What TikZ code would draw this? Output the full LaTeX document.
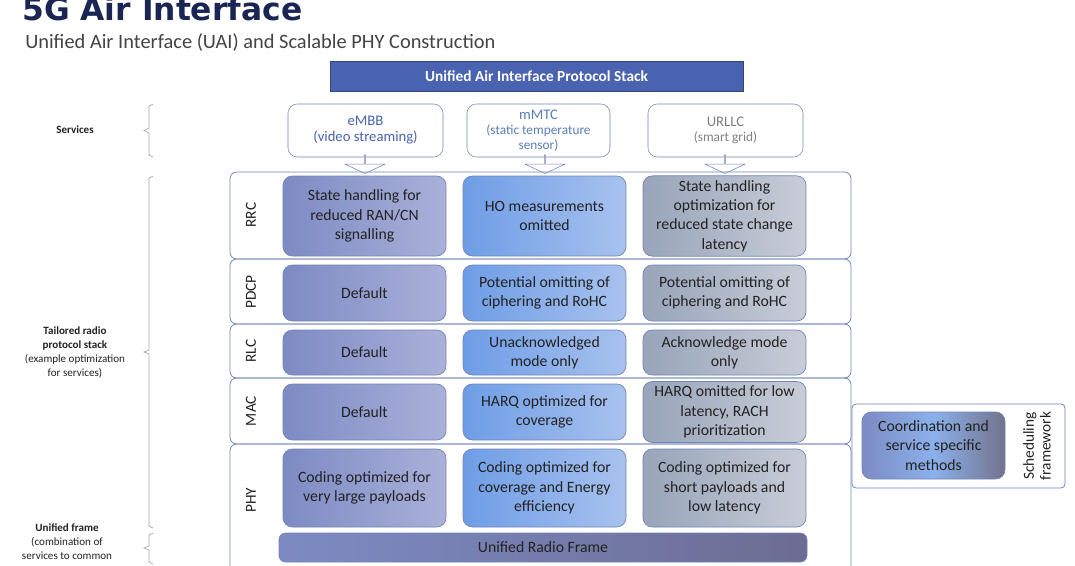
\documentclass[tikz,border=0pt]{standalone}
\usepackage{fontspec}
\setmainfont{Carlito}
\newfontfamily\titlefont{DejaVu Sans}
\usetikzlibrary{shapes.arrows}
\definecolor{navy}{HTML}{1B2553}
\definecolor{hdr}{HTML}{4A63B0}
\definecolor{bord}{HTML}{7283B8}
\definecolor{aA}{HTML}{7D8BC4}\definecolor{aB}{HTML}{AAB1D9}
\definecolor{bA}{HTML}{6E9DE6}\definecolor{bB}{HTML}{A8C2EE}
\definecolor{cA}{HTML}{98A4BA}\definecolor{cB}{HTML}{C8CDD7}
\definecolor{txt}{HTML}{222222}
\tikzset{
 frame/.style={draw=bord, rounded corners=5pt, line width=0.6pt},
 cell/.style={draw=bord, rounded corners=7pt, line width=0.5pt, text=txt, align=center, font=\fontsize{11.8}{14.5}\selectfont},
 ca/.style={cell, left color=aA, right color=aB},
 cb/.style={cell, left color=bA, right color=bB},
 cc/.style={cell, left color=cA, right color=cB},
 svc/.style={draw=bord, rounded corners=7pt, fill=white, align=center, font=\fontsize{11}{12}\selectfont},
 lay/.style={rotate=90, font=\fontsize{11.5}{13}\selectfont, text=txt},
 lbl/.style={align=center, font=\bfseries\fontsize{8.3}{10.5}\selectfont, text=txt},
 brc/.style={draw=gray!70, line width=0.5pt},
 harr/.style={single arrow, draw=bord, fill=white, rotate=-90, minimum height=14pt, minimum width=30pt, single arrow head extend=6pt, single arrow tip angle=130, inner sep=0pt},
}
\begin{document}
\begin{tikzpicture}[x=0.75pt,y=-0.75pt]
\useasboundingbox (0,0) rectangle (1075,565);
\node[anchor=base west, inner sep=0, text=navy, font=\titlefont\bfseries\fontsize{23.5}{25}\selectfont] (title) at (22,20) {5G Air Interface};
\node[anchor=west, inner sep=0, text=txt!85, font=\fontsize{15.3}{17}\selectfont] (sub) at (25,42) {Unified Air Interface (UAI) and Scalable PHY Construction};
\node[draw=hdr!70!black, fill=hdr, text=white, font=\bfseries\fontsize{11.5}{13}\selectfont, minimum width=413*0.75pt, minimum height=30*0.75pt] (hdr) at (536.5,76) {Unified Air Interface Protocol Stack};
% services
\node[svc, minimum width=155*0.75pt, minimum height=53*0.75pt, text=hdr] (s1) at (365.5,130.5) {eMBB\\(video streaming)};
\node[svc, minimum width=143*0.75pt, minimum height=53*0.75pt, text=bA!80!black, font=\fontsize{10}{11.5}\selectfont] (s2) at (538.5,130.5) {{\fontsize{11}{12}\selectfont mMTC}\\(static temperature\\sensor)};
\node[svc, minimum width=155*0.75pt, minimum height=53*0.75pt, text=gray, font=\fontsize{10}{11.5}\selectfont] (s3) at (725.5,130.5) {{\fontsize{11}{12}\selectfont URLLC}\\(smart grid)};
\node[harr] (a1) at (365,164) {};
\node[harr] (a2) at (545,164) {};
\node[harr] (a3) at (725,164) {};
% layer frames
\draw[frame] (230,172) rectangle (851,259);
\draw[frame] (230,259) rectangle (851,324);
\draw[frame] (230,324) rectangle (851,378);
\draw[frame] (230,378) rectangle (851,444);
\draw[frame] (230,444) rectangle (851,580);
\node[lay] (lrrc) at (251,215) {RRC};
\node[lay] (lpdcp) at (251,292) {PDCP};
\node[lay] (lrlc) at (251,351) {RLC};
\node[lay] (lmac) at (251,411) {MAC};
\node[lay] (lphy) at (251,500) {PHY};
% cells
\def\cellA#1#2#3#4{\node[ca, minimum width=163*0.75pt, minimum height=#2*0.75pt] (#3) at (364.5,#1) {#4};}
\def\cellB#1#2#3#4{\node[cb, minimum width=163*0.75pt, minimum height=#2*0.75pt] (#3) at (544.5,#1) {#4};}
\def\cellC#1#2#3#4{\node[cc, minimum width=163*0.75pt, minimum height=#2*0.75pt] (#3) at (724.5,#1) {#4};}
\cellA{216}{80}{r1}{State handling for\\reduced RAN/CN\\signalling}
\cellB{216}{80}{r2}{HO measurements\\omitted}
\cellC{216}{80}{r3}{State handling\\optimization for\\reduced state change\\latency}
\cellA{293}{56}{p1}{Default}
\cellB{293}{56}{p2}{Potential omitting of\\ciphering and RoHC}
\cellC{293}{56}{p3}{Potential omitting of\\ciphering and RoHC}
\cellA{352.5}{45}{l1}{Default}
\cellB{352.5}{45}{l2}{Unacknowledged\\mode only}
\cellC{352.5}{45}{l3}{Acknowledge mode\\only}
\cellA{412}{56}{m1}{Default}
\cellB{412}{56}{m2}{HARQ optimized for\\coverage}
\cellC{412}{56}{m3}{HARQ omitted for low\\latency, RACH\\prioritization}
\cellA{488}{78}{y1}{Coding optimized for\\very large payloads}
\cellB{488}{78}{y2}{Coding optimized for\\coverage and Energy\\efficiency}
\cellC{488}{78}{y3}{Coding optimized for\\short payloads and\\low latency}
\node[cell, rounded corners=5pt, left color=aA, right color=gray!85!blue, minimum width=528*0.75pt, minimum height=29*0.75pt] (urf) at (543,547.5) {Unified Radio Frame};
% scheduling
\draw[frame, rounded corners=3pt] (852,404) rectangle (1065,488);
\node[cell, left color=aA, right color=gray!90!blue, middle color=bA!80!white, minimum width=143*0.75pt, minimum height=67*0.75pt] (sch) at (933.5,445.5) {Coordination and\\service specific\\methods};
\node[lay, align=center, font=\fontsize{11.5}{12.5}\selectfont] (schl) at (1037,446) {Scheduling\\framework};
% braces
\draw[brc] (153,104) -- (149,106) -- (149,128) -- (144,130.5) -- (149,133) -- (149,155) -- (153,157);
\draw[brc] (153,176) -- (149,178) -- (149,350) -- (144,352) -- (149,354) -- (149,526) -- (153,528);
\draw[brc] (153,533) -- (149,535) -- (149,546) -- (144,548) -- (149,550) -- (149,562) -- (153,564);
\node[lbl] (ls) at (75,130) {Services};
\node[lbl, font=\fontsize{8.3}{10.5}\selectfont] (lt) at (75,352) {\textbf{Tailored radio}\\\textbf{protocol stack}\\(example optimization\\for services)};
\node[lbl, font=\fontsize{8.3}{10.5}\selectfont, anchor=north] (lu) at (67,519) {\textbf{Unified frame}\\(combination of\\services to common};
\end{tikzpicture}
\end{document}
